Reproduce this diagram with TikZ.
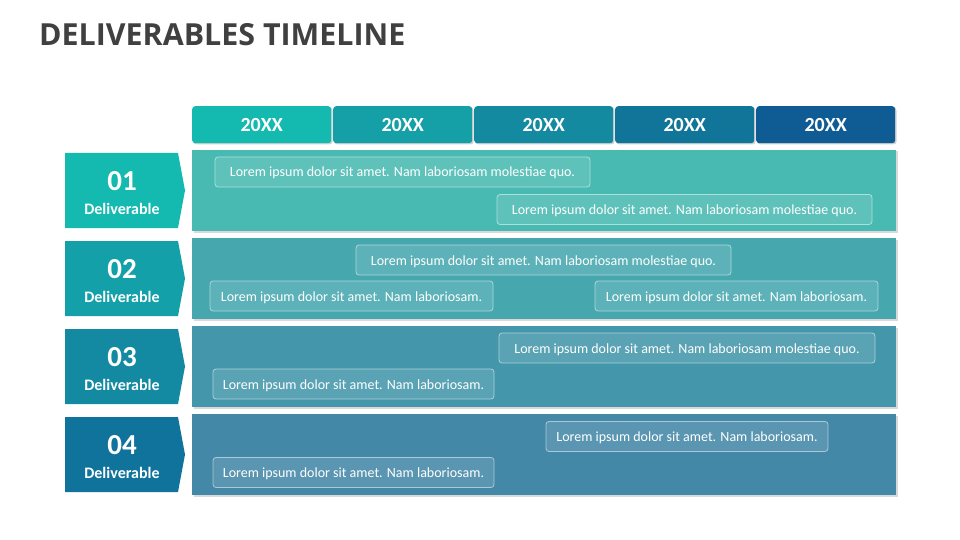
\documentclass[tikz,border=0pt]{standalone}
\usepackage{fontspec}
\setmainfont{Carlito}
\newfontfamily\titlefont{Open Sans}
\definecolor{titlegray}{RGB}{64,64,64}
\definecolor{hdrA}{RGB}{20,185,176}
\definecolor{hdrB}{RGB}{20,160,166}
\definecolor{hdrC}{RGB}{19,138,160}
\definecolor{hdrD}{RGB}{17,117,153}
\definecolor{hdrE}{RGB}{14,92,147}
\definecolor{labA}{RGB}{20,185,176}
\definecolor{labB}{RGB}{20,160,168}
\definecolor{labC}{RGB}{19,138,162}
\definecolor{labD}{RGB}{16,115,155}
\definecolor{bandA}{RGB}{72,186,178}
\definecolor{bandB}{RGB}{70,167,174}
\definecolor{bandC}{RGB}{68,151,170}
\definecolor{bandD}{RGB}{67,136,166}
\tikzset{
  hdrbox/.style={rounded corners=3pt, minimum width=139pt, minimum height=37pt, inner sep=0pt,
    text=white, font=\bfseries\fontsize{20}{20}\selectfont},
  hdrshadow/.style={fill=black!18, rounded corners=3pt},
  bandshadow/.style={fill=black!15},
  txtbox/.style={draw=white!55!#1, fill=white!12!#1, rounded corners=3pt, line width=0.8pt,
    minimum height=30pt, inner sep=0pt, text=white, font=\fontsize{14}{14}\selectfont,
    text height=11pt, text depth=1pt},
  numtext/.style={text=white, font=\bfseries\fontsize{29}{29}\selectfont, inner sep=0pt},
  deltext/.style={text=white, font=\bfseries\fontsize{16}{16}\selectfont, inner sep=0pt},
}
\begin{document}
\begin{tikzpicture}[x=1pt,y=-1pt]
\useasboundingbox (0,0) rectangle (960,540);
% title
\node[anchor=west, text=titlegray, font=\titlefont\bfseries\fontsize{30.4}{30.4}\selectfont, inner sep=0pt] (title) at (39,35) {DELIVERABLES TIMELINE};
% headers
\foreach \i/\x/\c in {1/192/hdrA,2/333/hdrB,3/474/hdrC,4/615/hdrD,5/756/hdrE}{
  \fill[hdrshadow] (\x+1.5,107.5) rectangle ++(139,37);
  \node[hdrbox, fill=\c, anchor=north west] (hdr\i) at (\x,106) {20XX};
}
% bands and labels
\foreach \r/\y/\lc/\bc/\n in {1/153/labA/bandA/01,2/241/labB/bandB/02,3/329/labC/bandC/03,4/417/labD/bandD/04}{
  \fill[bandshadow] (193.5,\y-1.5) rectangle (897.5,\y+79.5);
  \fill[\bc] (192,\y-3) rectangle (896,\y+78) coordinate (band\r);
  \fill[\lc] (65,\y) -- (178,\y) -- (185,\y+37.5) -- (178,\y+75) -- (65,\y+75) -- cycle;
  \node[numtext] (num\r) at (122,\y+28) {\n};
  \node[deltext] (del\r) at (122,\y+56) {Deliverable};
}
% text boxes
\node[txtbox=bandA, minimum width=375pt] (t1a) at (402.5,172) {Lorem ipsum dolor sit amet. Nam laboriosam molestiae quo.};
\node[txtbox=bandA, minimum width=375pt] (t1b) at (684.5,209.5) {Lorem ipsum dolor sit amet. Nam laboriosam molestiae quo.};
\node[txtbox=bandB, minimum width=375pt] (t2a) at (543.5,260) {Lorem ipsum dolor sit amet. Nam laboriosam molestiae quo.};
\node[txtbox=bandB, minimum width=283pt] (t2b) at (351.5,296) {Lorem ipsum dolor sit amet. Nam laboriosam.};
\node[txtbox=bandB, minimum width=283pt] (t2c) at (736.5,296) {Lorem ipsum dolor sit amet. Nam laboriosam.};
\node[txtbox=bandC, minimum width=376pt] (t3a) at (687,348) {Lorem ipsum dolor sit amet. Nam laboriosam molestiae quo.};
\node[txtbox=bandC, minimum width=281pt] (t3b) at (353.5,384) {Lorem ipsum dolor sit amet. Nam laboriosam.};
\node[txtbox=bandD, minimum width=282pt] (t4a) at (687,436.5) {Lorem ipsum dolor sit amet. Nam laboriosam.};
\node[txtbox=bandD, minimum width=281pt] (t4b) at (353.5,472.5) {Lorem ipsum dolor sit amet. Nam laboriosam.};
\end{tikzpicture}
\end{document}
